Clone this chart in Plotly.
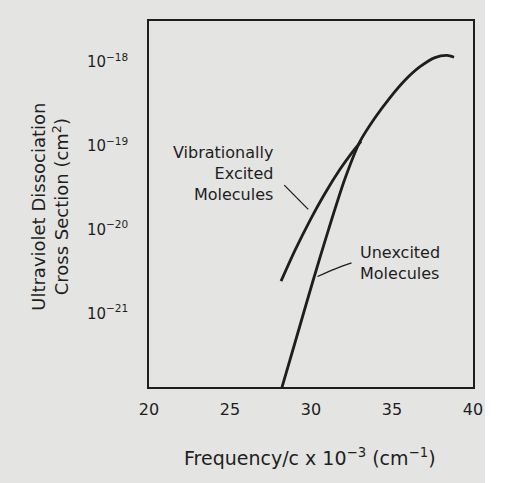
import plotly.graph_objects as go

# unexcited molecules
freq_unexc = [28.19, 29.14, 30.12, 31.11, 32.10, 33.02, 33.95, 34.88, 35.80, 36.73, 37.65, 38.40, 38.83]
sigma_unexc = [1.27e-22, 5.43e-22, 2.43e-21, 1.04e-20, 4.06e-20, 1.12e-19, 2.16e-19,
               3.77e-19, 6.07e-19, 8.79e-19, 1.13e-18, 1.20e-18, 1.14e-18]

# vibrationally excited molecules
freq_exc = [28.15, 29.01, 29.94, 30.86, 31.79, 32.53, 33.09]
sigma_exc = [2.42e-21, 5.64e-21, 1.29e-20, 2.70e-20, 5.24e-20, 8.30e-20, 1.13e-19]

# label leader lines
lead_exc_x = [28.35, 29.83]
lead_exc_y = [3.39e-20, 1.74e-20]
lead_unexc_x = [32.5, 31.5, 30.4]
lead_unexc_y = [4.0e-21, 3.4e-21, 2.75e-21]

x_ticks = [20, 25, 30, 35, 40]
y_ticks = [1e-21, 1e-20, 1e-19, 1e-18]
y_ticktext = ["10<sup>−21</sup>", "10<sup>−20</sup>", "10<sup>−19</sup>", "10<sup>−18</sup>"]

ink = "#1e1e1e"
paper = "#e4e4e2"

fig = go.Figure()

fig.add_trace(go.Scatter(x=freq_unexc, y=sigma_unexc, mode="lines",
                         line=dict(color=ink, width=2.8, shape="spline", smoothing=0.7),
                         showlegend=False, hoverinfo="skip"))
fig.add_trace(go.Scatter(x=freq_exc, y=sigma_exc, mode="lines",
                         line=dict(color=ink, width=2.8, shape="spline", smoothing=0.7),
                         showlegend=False, hoverinfo="skip"))

fig.add_trace(go.Scatter(x=lead_exc_x, y=lead_exc_y, mode="lines",
                         line=dict(color=ink, width=1.3), showlegend=False, hoverinfo="skip"))
fig.add_trace(go.Scatter(x=lead_unexc_x, y=lead_unexc_y, mode="lines",
                         line=dict(color=ink, width=1.3, shape="spline"),
                         showlegend=False, hoverinfo="skip"))

font = dict(family="DejaVu Sans, Verdana, sans-serif", color=ink)

fig.add_annotation(x=27.8, y=-19.33, xref="x", yref="y",
                   text="Vibrationally<br>Excited<br>Molecules",
                   showarrow=False, xanchor="right", yanchor="middle", align="right",
                   font=dict(size=16, **font))
fig.add_annotation(x=32.9, y=-20.40, xref="x", yref="y",
                   text="Unexcited<br>Molecules",
                   showarrow=False, xanchor="left", yanchor="middle", align="left",
                   font=dict(size=16, **font))

# axis titles
fig.add_annotation(x=-0.306, y=0.492, xref="paper", yref="paper",
                   text="Ultraviolet Dissociation<br>Cross Section (cm<sup>2</sup>)",
                   textangle=-90, showarrow=False, align="center",
                   xanchor="center", yanchor="middle",
                   font=dict(size=18, **font))
fig.add_annotation(x=0.497, y=-0.191, xref="paper", yref="paper",
                   text="Frequency/c x 10<sup>−3</sup> (cm<sup>−1</sup>)",
                   showarrow=False, xanchor="center", yanchor="middle",
                   font=dict(size=19, **font))

# white strip at the right edge of the scan
fig.add_shape(type="rect", xref="paper", yref="paper", x0=1.037, x1=1.2, y0=-0.4, y1=1.2,
              fillcolor="white", line=dict(width=0), layer="below")

fig.update_xaxes(range=[20, 40], tickvals=x_ticks, ticks="", showgrid=False, zeroline=False,
                 showline=True, mirror=True, linecolor=ink, linewidth=1.6,
                 ticklabelstandoff=7, tickfont=dict(size=16, **font))
fig.update_yaxes(type="log", range=[-21.88, -17.51], tickvals=y_ticks, ticktext=y_ticktext,
                 ticks="", showgrid=False, zeroline=False,
                 showline=True, mirror=True, linecolor=ink, linewidth=1.6,
                 ticklabelstandoff=16, tickfont=dict(size=15, **font))

fig.update_layout(width=512, height=483,
                  margin=dict(l=149, r=39, t=21, b=96),
                  paper_bgcolor=paper, plot_bgcolor=paper,
                  showlegend=False)

# the page body has a default 8px margin; drop it so the figure sits at 0,0
fig.write_html("out.html", config={"displayModeBar": False},
               post_script="document.body.style.margin='0px';")
